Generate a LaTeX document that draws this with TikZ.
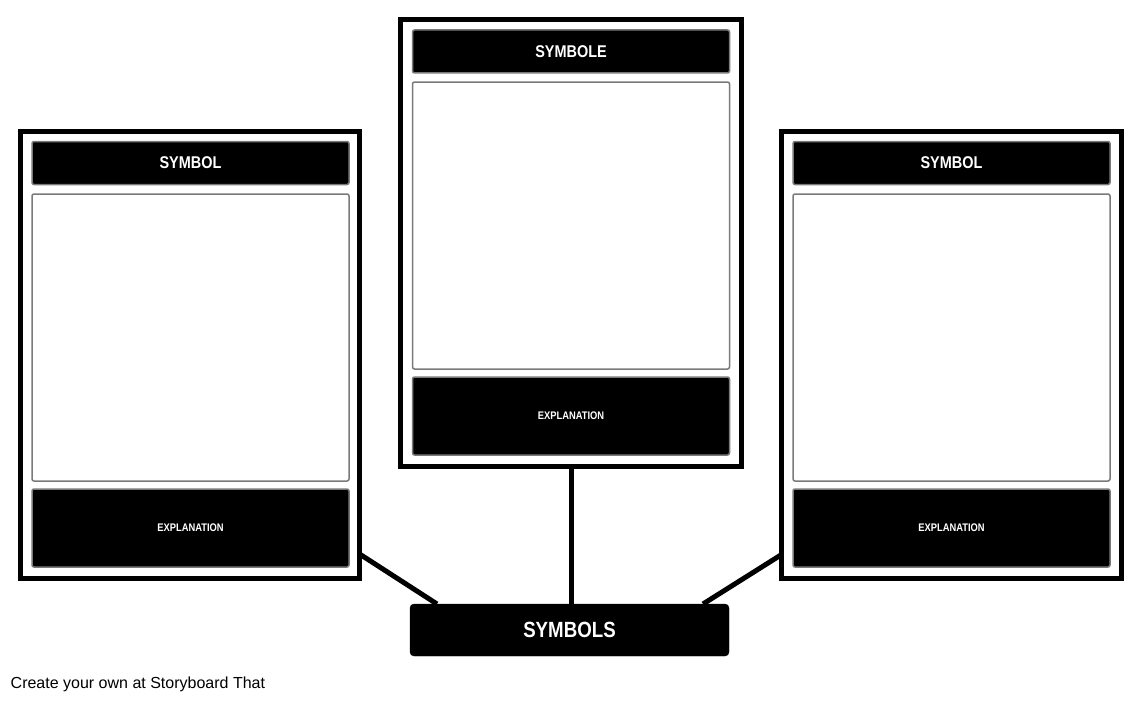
\documentclass[tikz,border=0pt]{standalone}
\usepackage{fontspec}
\setmainfont{Liberation Sans}
\newfontfamily\hdrfont[FakeStretch=0.85]{Liberation Sans}
\usetikzlibrary{backgrounds}
\definecolor{edgegray}{HTML}{7A7A7A}
\tikzset{
  cardbox/.style={draw=black, fill=white, line width=5pt, inner sep=0pt, outer sep=0pt},
  headbox/.style={draw=edgegray, fill=black, line width=1.5pt, rounded corners=2pt, inner sep=0pt, outer sep=0pt,
     minimum width=317pt, minimum height=43pt, text=white, font=\hdrfont\bfseries\fontsize{17}{20}\selectfont},
  picbox/.style={draw=edgegray, fill=white, line width=1.5pt, rounded corners=2pt, inner sep=0pt, outer sep=0pt,
     minimum width=317pt, minimum height=287pt},
  explbox/.style={draw=edgegray, fill=black, line width=1.5pt, rounded corners=2pt, inner sep=0pt, outer sep=0pt,
     minimum width=317pt, minimum height=78pt, text=white, font=\hdrfont\bfseries\fontsize{11}{13}\selectfont},
  titlebox/.style={draw=black, fill=black, rounded corners=4pt, inner sep=0pt, outer sep=0pt,
     minimum width=319pt, minimum height=52pt, text=white, font=\hdrfont\bfseries\fontsize{22}{26}\selectfont},
  link/.style={draw=black, line width=5pt},
}
\begin{document}
\begin{tikzpicture}[x=1pt, y=-1pt]
\useasboundingbox (0,0) rectangle (1143,701);

% cards
\node[cardbox, minimum width=339pt, minimum height=447pt] (lcard) at (190,355) {};
\node[cardbox, minimum width=341pt, minimum height=447pt] (ccard) at (571,243) {};
\node[cardbox, minimum width=340pt, minimum height=447pt] (rcard) at (951.5,355) {};

% left card contents
\node[headbox] (lhead) at (190.5,163) {SYMBOL};
\node[picbox] (lpic) at (190.5,337.5) {};
\node[explbox] (lexpl) at (190.5,528) {EXPLANATION};

% center card contents
\node[headbox] (chead) at (571,51.5) {SYMBOLE};
\node[picbox] (cpic) at (571,225.5) {};
\node[explbox] (cexpl) at (571,416) {EXPLANATION};

% right card contents
\node[headbox] (rhead) at (951.5,163) {SYMBOL};
\node[picbox] (rpic) at (951.5,337.5) {};
\node[explbox] (rexpl) at (951.5,528) {EXPLANATION};

% title
\node[titlebox] (title) at (569.5,630) {SYMBOLS};

% connectors
\coordinate (la) at (358,553);
\coordinate (lb) at (437,604);
\coordinate (ra) at (784,553);
\coordinate (rb) at (703,604);
\begin{pgfonlayer}{background}
\fill[white] (0,0) rectangle (1143,701);
\draw[link] (la) -- (lb);
\draw[link] (ra) -- (rb);
\draw[link] (ccard.south) -- (ccard.south |- title.north);
\end{pgfonlayer}

% footer
\node[anchor=base west, inner sep=0pt, font=\fontsize{16}{19}\selectfont] (footer) at (10.5,688) {Create your own at Storyboard That};
\end{tikzpicture}
\end{document}
